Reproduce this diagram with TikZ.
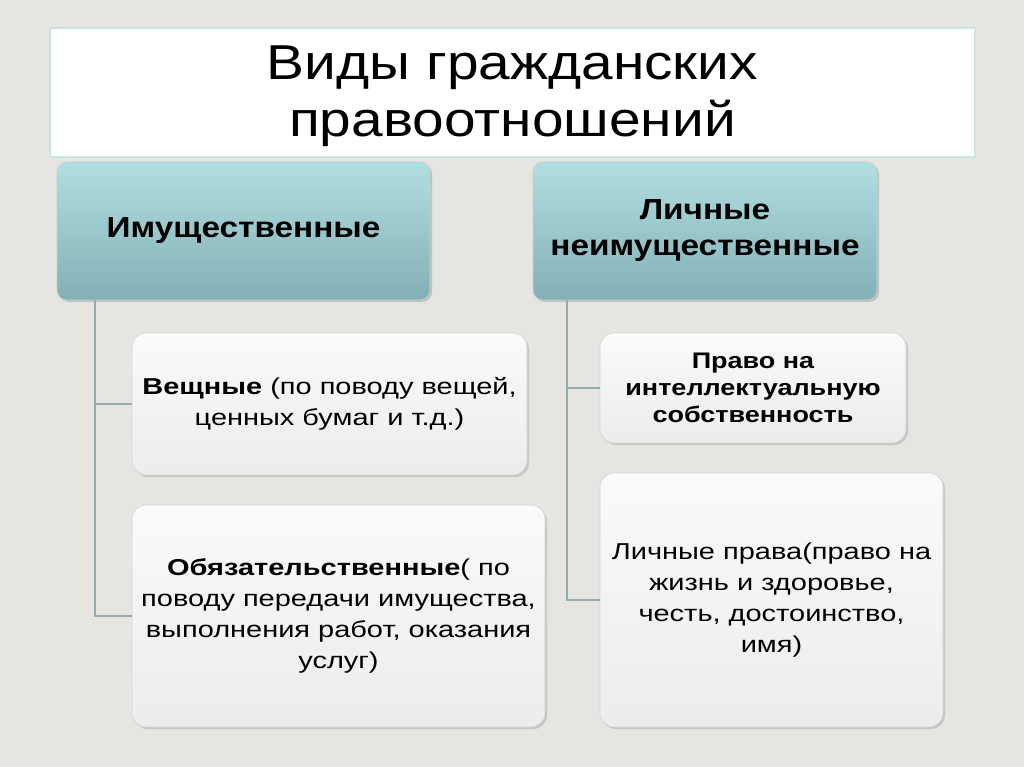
\documentclass[tikz,border=0pt]{standalone}
\usepackage{fontspec}
\setmainfont[FakeStretch=1.26]{Liberation Sans}
\newfontfamily\titlefont[FakeStretch=1.16]{Liberation Sans}
\newfontfamily\headfont[FakeStretch=1.15]{Liberation Sans}
\newfontfamily\smallboxfont[FakeStretch=1.2]{Liberation Sans}
\usetikzlibrary{shadows}
\definecolor{bg}{HTML}{E6E5E1}
\definecolor{titleedge}{HTML}{C8E4E5}
\definecolor{headtop}{HTML}{B0DEE1}
\definecolor{headbot}{HTML}{82B0B6}
\definecolor{childtop}{HTML}{FAFAFA}
\definecolor{childbot}{HTML}{ECECEC}
\definecolor{childedge}{HTML}{D4D4D4}
\definecolor{conncol}{HTML}{93ADAF}
\tikzset{
  titlebox/.style={draw=titleedge, line width=2pt, fill=white, inner sep=0pt, align=center},
  headbox/.style={rounded corners=10pt, top color=headtop, bottom color=headbot, draw=headbot!80!black!40, line width=0.6pt,
    drop shadow={opacity=0.35, shadow xshift=2pt, shadow yshift=-2pt}, inner sep=0pt, align=center,
    font=\headfont\bfseries\fontsize{29}{36}\selectfont},
  childbox/.style={rounded corners=14pt, top color=childtop, bottom color=childbot, draw=childedge, line width=0.6pt,
    drop shadow={opacity=0.3, shadow xshift=2pt, shadow yshift=-2pt}, inner sep=0pt, align=center,
    font=\fontsize{23}{31}\selectfont},
  conn/.style={draw=conncol, line width=2pt}
}
\begin{document}
\begin{tikzpicture}[x=1pt,y=-1pt]
\useasboundingbox (0,0) rectangle (1024,767);
\fill[bg] (0,0) rectangle (1024,767);

\node[titlebox, minimum width=925pt, minimum height=129pt] (title) at (512.5,92.5) {};
\node[align=center, inner sep=0pt, font=\titlefont\fontsize{49}{57}\selectfont] (titletext) at (512.5,96)
  {Виды гражданских\\правоотношений};

\node[headbox, minimum width=373pt, minimum height=138pt] (h1) at (243.5,231) {Имущественные};
\node[headbox, minimum width=344pt, minimum height=138pt] (h2) at (705,231) {Личные\\неимущественные};

\node[childbox, minimum width=395pt, minimum height=142pt] (c1) at (329.5,404)
  {\textbf{Вещные} (по поводу вещей,\\ценных бумаг и т.д.)};
\node[childbox, minimum width=413pt, minimum height=222pt] (c2) at (338.5,616)
  {\textbf{Обязательственные}( по\\поводу передачи имущества,\\выполнения работ, оказания\\услуг)};
\node[childbox, minimum width=306pt, minimum height=110pt, font=\smallboxfont\bfseries\fontsize{22.5}{27}\selectfont] (c3) at (753,388)
  {Право на\\интеллектуальную\\собственность};
\node[childbox, minimum width=343pt, minimum height=254pt] (c4) at (771.5,600)
  {Личные права(право на\\жизнь и здоровье,\\честь, достоинство,\\имя)};

\coordinate (lt) at ([xshift=38pt]h1.south west);
\coordinate (rt) at ([xshift=34pt]h2.south west);
\draw[conn] (lt) |- (c1.west);
\draw[conn] (lt) |- (c2.west);
\draw[conn] (rt) |- (c3.west);
\draw[conn] (rt) |- (c4.west);
\end{tikzpicture}
\end{document}
